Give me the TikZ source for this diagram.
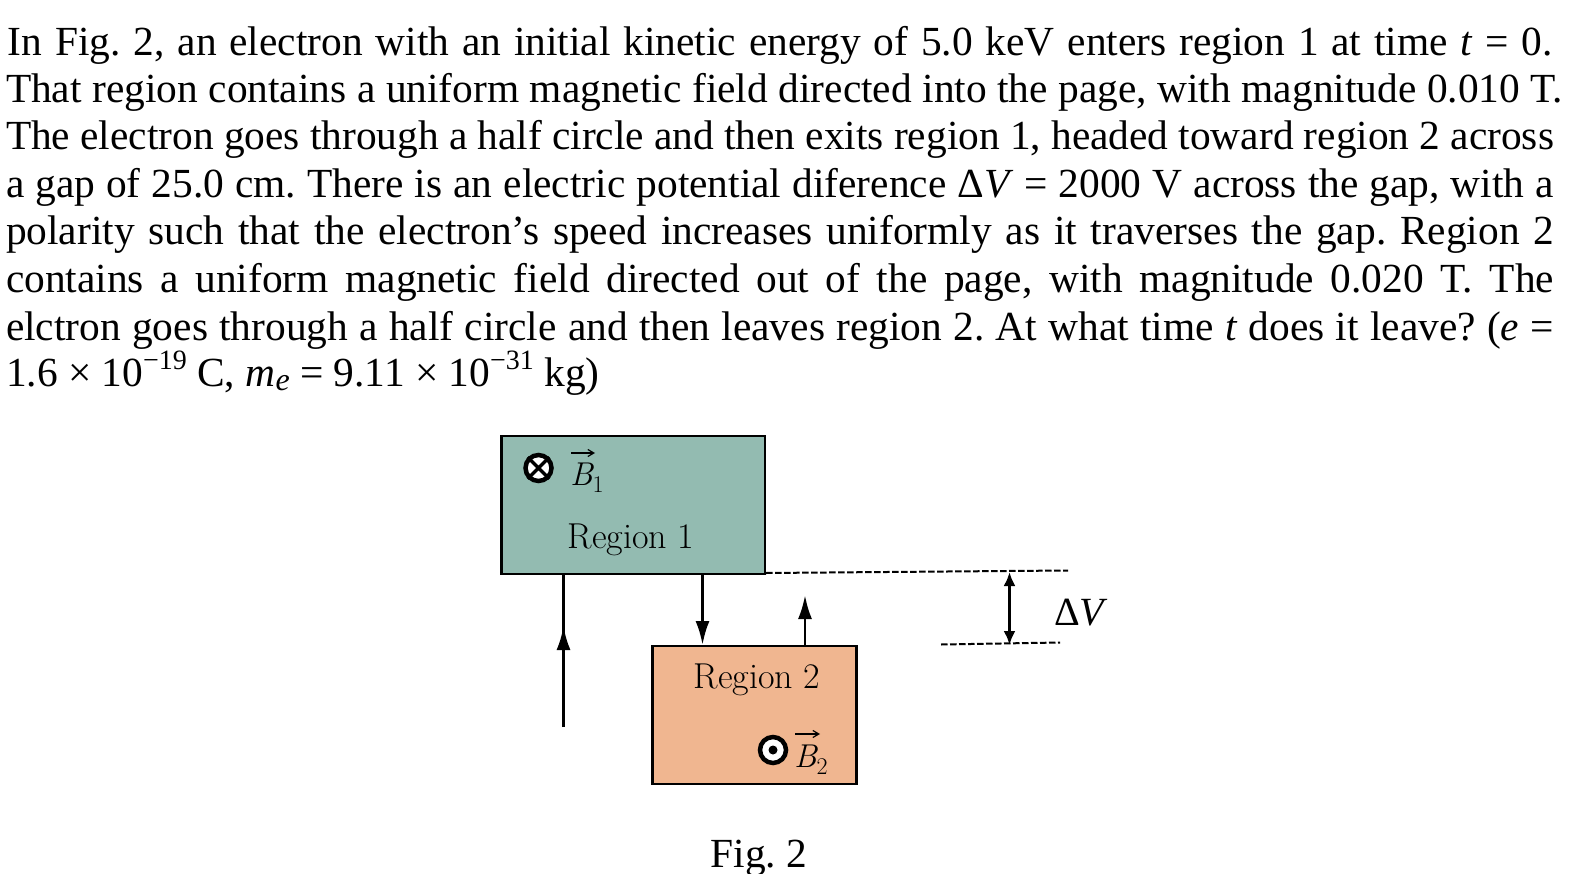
\documentclass[tikz,border=0pt]{standalone}
\usepackage{fontspec}
\setmainfont{Liberation Serif}
\newfontfamily\figfont{Latin Modern Roman}
\usetikzlibrary{arrows.meta}
\definecolor{RegionOne}{HTML}{93BBB1}
\definecolor{RegionTwo}{HTML}{F0B690}
\tikzset{
  txt/.style={anchor=base west,inner sep=0pt,outer sep=0pt,font=\fontsize{41.4}{47}\selectfont\frenchspacing},
  lbl/.style={inner sep=0pt,outer sep=0pt,anchor=base,font=\figfont\fontsize{36}{38}\selectfont,text=black},
  blbl/.style={inner sep=0pt,outer sep=0pt,anchor=base west,font=\figfont\itshape\fontsize{33}{36}\selectfont,text=black},
  region/.style={draw=black,line width=2.2pt,anchor=north west,inner sep=0pt,outer sep=0pt},
  conn/.style={line width=2.8pt,-{Latex[length=24pt,width=14pt]}},
  plain/.style={line width=2.8pt},
  guide/.style={line width=2pt,dash pattern=on 6.5pt off 2.5pt},
  dbl/.style={line width=2.8pt,{Latex[length=14pt,width=12pt]}-{Latex[length=14pt,width=12pt]}},
  field/.style={circle,draw=black,fill=white,line width=4.5pt,minimum size=26pt,inner sep=0pt},
  vecbar/.style={line width=1.2pt,-{Straight Barb[length=6pt,width=7pt]}},
}
\newcommand{\sqsup}[1]{\raisebox{.42em}{\fontsize{28}{28}\selectfont #1}}
\newcommand{\bsub}[1]{\raisebox{-.22em}{\upshape\fontsize{24}{24}\selectfont #1}}
\begin{document}
\begin{tikzpicture}[x=1pt,y=-1pt]
\useasboundingbox (0,0) rectangle (1578,874);
\node[txt] (l1) at (8,55.5) {\hbox to 1545pt{In Fig. 2, an electron with an initial kinetic energy of 5.0 keV enters region 1 at time \textit{t} = 0.}};
\node[txt] (l2) at (6,102.5) {\hbox to 1557pt{That region contains a uniform magnetic field directed into the page, with magnitude 0.010 T.}};
\node[txt] (l3) at (6,150) {\hbox to 1548pt{The electron goes through a half circle and then exits region 1, headed toward region 2 across}};
\node[txt] (l4) at (6,197.5) {\hbox to 1548pt{a gap of 25.0 cm. There is an electric potential diference Δ\textit{V} = 2000 V across the gap, with a}};
\node[txt] (l5) at (6,245) {\hbox to 1548pt{polarity such that the electron’s speed increases uniformly as it traverses the gap. Region 2}};
\node[txt] (l6) at (6,292.5) {\hbox to 1548pt{contains a uniform magnetic field directed out of the page, with magnitude 0.020 T. The}};
\node[txt] (l7) at (6,340) {\hbox to 1548pt{elctron goes through a half circle and then leaves region 2. At what time \textit{t} does it leave? (\textit{e} =}};
\node[txt] (l8) at (6,386.5) {1.6 × 10\sqsup{−19} C, \textit{m\raisebox{-.1em}{\fontsize{32}{32}\selectfont e}} = 9.11 × 10\sqsup{−31} kg)};

\node[region,fill=RegionOne,minimum width=263.5pt,minimum height=138pt] (r1) at (501.5,436) {};
\node[region,fill=RegionTwo,minimum width=204pt,minimum height=138pt] (r2) at (652.5,646) {};

\node[field] (bin) at (538.5,468) {};
\draw[line width=3.2pt] (bin.north west) -- (bin.south east) (bin.north east) -- (bin.south west);
\node[blbl] (b1) at (570,485) {B\bsub{1}};
\coordinate (b1a) at (571,453);
\coordinate (b1b) at (595,453);
\draw[vecbar] (b1a) -- (b1b);
\node[lbl] (t1) at (631,548) {Region 1};
\node[lbl] (t2) at (757,688) {Region 2};
\node[field] (bout) at (773,750) {};
\fill (bout.center) circle (4.5pt);
\node[blbl] (b2) at (794,767) {B\bsub{2}};
\coordinate (b2a) at (795,734);
\coordinate (b2b) at (820,734);
\draw[vecbar] (b2a) -- (b2b);

\coordinate (aS) at (563.5,727);
\coordinate (aM) at (563.5,626);
\coordinate (aJ) at (563.5,634);
\coordinate (aT) at (563.5,574);
\coordinate (bT) at (702.5,574);
\coordinate (bB) at (702.5,645);
\coordinate (cB) at (805,645);
\coordinate (cT) at (805,595);
\draw[plain] (aJ) -- (aT);
\draw[conn] (aS) -- (aM);
\draw[conn] (bT) -- (bB);
\draw[conn] (cB) -- (cT);

\coordinate (d1a) at (766,573);
\coordinate (d1b) at (1068,570.5);
\coordinate (d2a) at (941,644.5);
\coordinate (d2b) at (1060,642.5);
\draw[guide] (d1a) -- (d1b);
\draw[guide] (d2a) -- (d2b);
\coordinate (va) at (1009.5,572);
\coordinate (vb) at (1009.5,645);
\draw[dbl] (va) -- (vb);
\node[lbl,font=\fontsize{40}{42}\selectfont] (dv) at (1081,625) {Δ\textit{V}};
\node[txt,anchor=base] (fig) at (759,867) {Fig. 2};
\end{tikzpicture}
\end{document}
